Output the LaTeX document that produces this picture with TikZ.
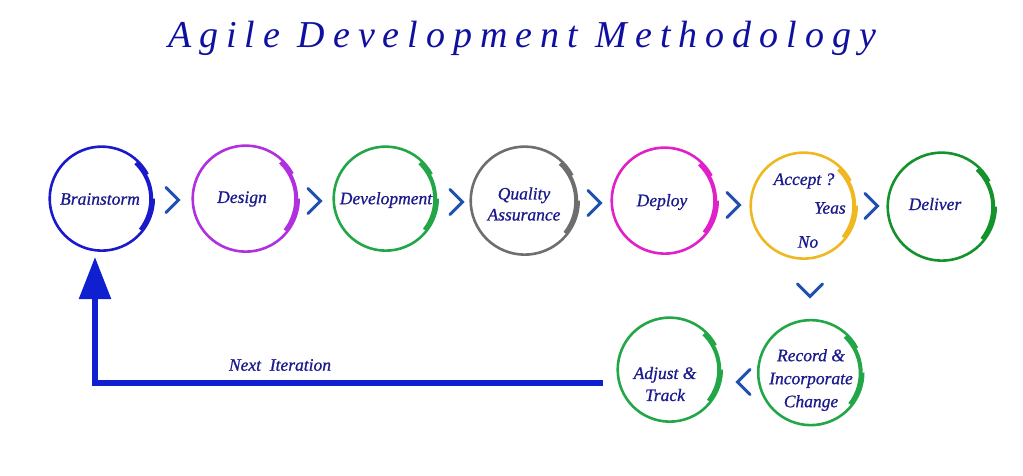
\documentclass[tikz,border=0pt]{standalone}
\usepackage{fontspec}
\setmainfont{Liberation Serif}
\usetikzlibrary{arrows.meta,calc}
\definecolor{txt}{HTML}{1A1A8C}
\definecolor{ttl}{HTML}{1010A0}
\definecolor{chev}{HTML}{2050B0}
\definecolor{cBlue}{HTML}{1A1ACC}
\definecolor{cPurple}{HTML}{B030E0}
\definecolor{cGreen}{HTML}{22A648}
\definecolor{cGrey}{HTML}{6E6E6E}
\definecolor{cMag}{HTML}{E020C8}
\definecolor{cGold}{HTML}{F0B820}
\definecolor{cDGreen}{HTML}{14922C}
\definecolor{arr}{HTML}{1020D0}
\newfontfamily\ttlfont[LetterSpace=21]{Liberation Serif}
\newfontfamily\lblfont[FakeBold=0.8]{Liberation Serif}
\tikzset{
  lbl/.style={font=\lblfont\itshape\fontsize{17.5}{21}\selectfont, text=txt, align=center},
  ring/.style={circle, minimum size=#1, inner sep=0pt},
  chevR/.style={draw=chev, line width=3pt, line cap=round, line join=miter},
}
\newcommand{\brushring}[3]{% node name, colour, radius
  \draw[#2, line width=2.6pt] ($(#1.center)+(-28:#3+0.8)$) arc[start angle=-28, end angle=-360, radius=#3];
  \draw[#2, line width=4pt] ($(#1.center)+(38:#3-1.8)$) arc[start angle=38, end angle=-46, radius=#3-1.8];
}
\newcommand{\chevright}[1]{\draw[chevR] ($(#1)+(-6,-12.5)$) -- ($(#1)+(6.5,0)$) -- ($(#1)+(-6,12.5)$);}
\begin{document}
\begin{tikzpicture}[x=1pt,y=-1pt]
\useasboundingbox (0,0) rectangle (1023,475);
\node[text=ttl, font=\ttlfont\itshape\fontsize{38}{40}\selectfont] (title) at (522,38) {Agile Development Methodology};
% circles
\node[ring=104pt] (b1) at (101,199) {};
\node[ring=106pt] (b2) at (245,199) {};
\node[ring=104pt] (b3) at (385,199) {};
\node[ring=108pt] (b4) at (524,201) {};
\node[ring=106pt] (b5) at (664,201) {};
\node[ring=106pt] (b6) at (803,206) {};
\node[ring=108pt] (b7) at (941,207) {};
\node[ring=105pt] (b8) at (810,373) {};
\node[ring=104pt] (b9) at (669,370) {};
\brushring{b1}{cBlue}{52}
\brushring{b2}{cPurple}{53}
\brushring{b3}{cGreen}{52}
\brushring{b4}{cGrey}{54}
\brushring{b5}{cMag}{53}
\brushring{b6}{cGold}{53}
\brushring{b7}{cDGreen}{54}
\brushring{b8}{cGreen}{52.5}
\brushring{b9}{cGreen}{52}
% labels
\node[lbl] (t1) at (100,199) {Brainstorm};
\node[lbl] (t2) at (242,199) {Design};
\node[lbl] (t3) at (386,200) {Development};
\node[lbl] (t4) at (524,204) {Quality\\Assurance};
\node[lbl] (t5) at (662,202) {Deploy};
\node[lbl] (t6a) at (804,181) {Accept ?};
\node[lbl] (t6b) at (830,208) {Yeas};
\node[lbl] (t6c) at (808,242) {No};
\node[lbl] (t7) at (935,204) {Deliver};
\node[lbl, font=\lblfont\itshape\fontsize{17.5}{23}\selectfont] (t8) at (811,380) {Record \&\\Incorporate\\Change};
\node[lbl, font=\lblfont\itshape\fontsize{17.5}{22}\selectfont] (t9) at (665,384) {Adjust \&\\Track};
% chevrons
\coordinate (c1) at (172,200);
\coordinate (c2) at (314,201);
\coordinate (c3) at (456,202);
\coordinate (c4) at (594,203);
\coordinate (c5) at (733,205);
\coordinate (c6) at (871,206);
\foreach \c in {c1,c2,c3,c4,c5,c6} {\chevright{\c}}
\coordinate (cd) at (810,290);
\draw[chevR] ($(cd)+(-12.5,-6)$) -- ($(cd)+(0,6.5)$) -- ($(cd)+(12.5,-6)$);
\coordinate (cl) at (744,382);
\draw[chevR] ($(cl)+(6,-12.5)$) -- ($(cl)+(-6.5,0)$) -- ($(cl)+(6,12.5)$);
% return arrow
\coordinate (rs) at (603,383);
\coordinate (rc) at (95,383);
\coordinate (rt) at (95,257);
\draw[arr, line width=5.5pt, -{Triangle[width=31pt,length=42pt]}] (rs) -- (rc) -- (rt);
\node[lbl] (next) at (280,365) {Next\ \ Iteration};
\end{tikzpicture}
\end{document}
